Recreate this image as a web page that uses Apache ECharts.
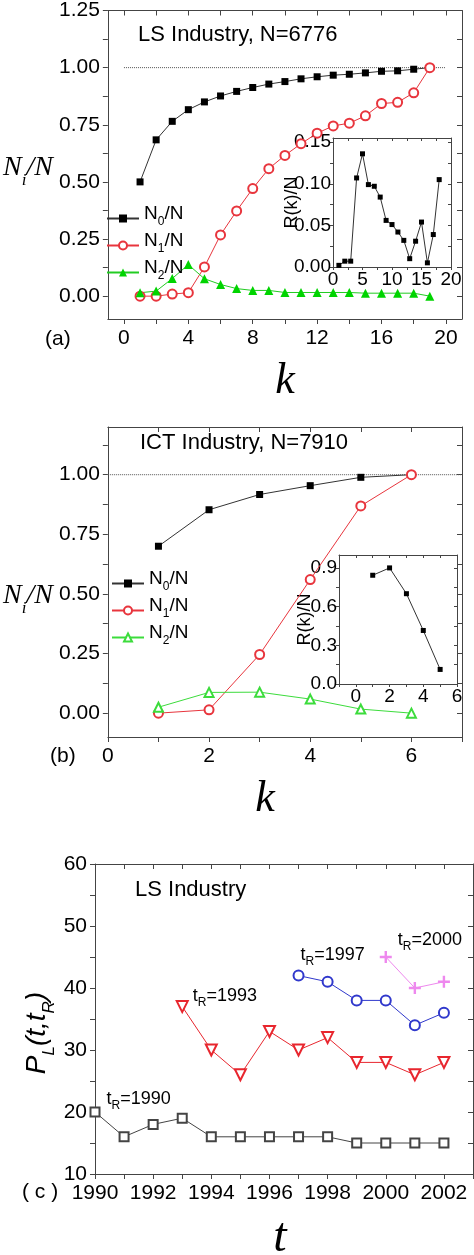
<!DOCTYPE html>
<html>
<head>
<meta charset="utf-8">
<script src="https://cdn.jsdelivr.net/npm/echarts@6/dist/echarts.min.js"></script>
<style>
  html, body { margin: 0; padding: 0; background: #fff; }
  #chart { width: 474px; height: 1255px; }
</style>
</head>
<body>
<div id="chart"></div>
<script>
// ---- panel (a): LS industry ----
const kA = [1, 2, 3, 4, 5, 6, 7, 8, 9, 10, 11, 12, 13, 14, 15, 16, 17, 18, 19];
const aN0 = [0.50, 0.684, 0.765, 0.816, 0.85, 0.876, 0.896, 0.913, 0.928, 0.939, 0.951, 0.96, 0.967, 0.971, 0.977, 0.984, 0.986, 0.993, 1.0];
const aN1 = [0.0, 0.0, 0.009, 0.015, 0.128, 0.268, 0.373, 0.471, 0.558, 0.616, 0.667, 0.713, 0.745, 0.757, 0.789, 0.843, 0.848, 0.89, 1.0];
const aN2 = [0.015, 0.022, 0.077, 0.138, 0.076, 0.051, 0.033, 0.025, 0.025, 0.016, 0.016, 0.016, 0.016, 0.016, 0.013, 0.013, 0.013, 0.013, 0.0];
// inset (a)
const kRA = [1, 2, 3, 4, 5, 6, 7, 8, 9, 10, 11, 12, 13, 14, 15, 16, 17, 18];
const rA = [0.002, 0.007, 0.007, 0.107, 0.136, 0.099, 0.097, 0.084, 0.056, 0.051, 0.042, 0.032, 0.010, 0.031, 0.054, 0.005, 0.039, 0.105];

// ---- panel (b): ICT industry ----
const kB = [1, 2, 3, 4, 5, 6];
const bN0 = [0.70, 0.853, 0.917, 0.954, 0.989, 1.0];
const bN1 = [0.0, 0.014, 0.246, 0.56, 0.869, 1.0];
const bN2 = [0.025, 0.087, 0.088, 0.059, 0.017, 0.0];
// inset (b)
const kRB = [1, 2, 3, 4, 5];
const rB = [0.843, 0.90, 0.70, 0.415, 0.113];

// ---- panel (c): P_L(t, t_R) ----
const years1990 = [1990, 1991, 1992, 1993, 1994, 1995, 1996, 1997, 1998, 1999, 2000, 2001, 2002];
const pl1990 = [20, 16, 18, 19, 16, 16, 16, 16, 16, 15, 15, 15, 15];
const years1993 = [1993, 1994, 1995, 1996, 1997, 1998, 1999, 2000, 2001, 2002];
const pl1993 = [37, 30, 26, 33, 30, 32, 28, 28, 26, 28];
const years1997 = [1997, 1998, 1999, 2000, 2001, 2002];
const pl1997 = [42, 41, 38, 38, 34, 36];
const years2000 = [2000, 2001, 2002];
const pl2000 = [45, 40, 41];

// tick labels
const aXLabels = [0, 4, 8, 12, 16, 20];
const aYLabels = [0, 0.25, 0.5, 0.75, 1.0, 1.25];
const iaXLabels = [0, 5, 10, 15, 20];
const iaYLabels = [0, 0.05, 0.10, 0.15];
const bXLabels = [0, 2, 4, 6];
const bYLabels = [0, 0.25, 0.5, 0.75, 1.0];
const ibXLabels = [0, 2, 4, 6];
const ibYLabels = [0, 0.3, 0.6, 0.9];
const cXLabels = [1990, 1992, 1994, 1996, 1998, 2000, 2002];
const cYLabels = [10, 20, 30, 40, 50, 60];

const FONT = "'Liberation Sans Narrow', 'Liberation Sans', Arial, sans-serif";
const SANS = "'Liberation Sans', Arial, sans-serif";
const SERIF = "'Liberation Serif', 'DejaVu Serif', serif";
const AX = '#444';

// ticks every `step` between a and b
function steps(a, b, step) {
    const out = [];
    for (let v = a; v <= b + 1e-9; v += step) out.push(Math.round(v * 1000) / 1000);
    return out;
}

function zip(xs, ys) {
    return xs.map((x, i) => [x, ys[i]]);
}

// main axis (with labels) and a twin axis on the opposite side that closes the frame
function axisPair(gi, dim, c) {
    const base = {
        gridIndex: gi, type: 'value', min: c.min, max: c.max,
        splitLine: { show: false },
        axisLine: { show: true, onZero: false, lineStyle: { color: AX, width: 1 } }
    };
    const main = Object.assign({}, base, {
        position: dim === 'x' ? 'bottom' : 'left',
        axisTick: { show: true, inside: false, length: c.tickLen, customValues: c.ticks, lineStyle: { color: AX } },
        axisLabel: {
            show: true, customValues: c.labels, formatter: c.fmt, color: '#000',
            fontSize: c.fs, fontFamily: FONT, margin: c.margin
        },
        name: c.name || '', nameLocation: 'middle', nameGap: c.nameGap || 0,
        nameMoveOverlap: false,
        nameTextStyle: c.nameStyle || {}
    });
    if (c.nameRotate !== undefined) main.nameRotate = c.nameRotate;
    const twin = Object.assign({}, base, {
        position: dim === 'x' ? 'top' : 'right',
        axisTick: { show: true, inside: true, length: c.tickLen, customValues: c.twinTicks || c.ticks, lineStyle: { color: AX } },
        axisLabel: { show: false }
    });
    return [main, twin];
}

const fix = n => v => v.toFixed(n);
const plain = v => String(v);

const subRich = (size, fam, style) => ({
    n: { fontSize: size, fontFamily: fam, fontStyle: style, fill: '#000', color: '#000', verticalAlign: 'bottom', lineHeight: size, padding: [0, 0, Math.round(size * 0.25), 0] },
    s: { fontSize: Math.round(size * 0.6), fontFamily: fam, fontStyle: style, fill: '#000', color: '#000', verticalAlign: 'bottom', lineHeight: Math.round(size * 0.6) }
});

const grids = [
    { left: 107, top: 9, width: 355, height: 310 },      // (a)
    { left: 333, top: 138, width: 118, height: 129, show: true, backgroundColor: '#fff', borderWidth: 0 }, // inset (a)
    { left: 107, top: 427, width: 355, height: 310 },    // (b)
    { left: 339, top: 555, width: 118, height: 129, show: true, backgroundColor: '#fff', borderWidth: 0 }, // inset (b)
    { left: 95, top: 864, width: 378, height: 310 }      // (c)
];

const xAxes = [].concat(
    axisPair(0, 'x', { min: -1, max: 21, ticks: steps(0, 20, 2), labels: aXLabels, fmt: plain, fs: 21, margin: 9, tickLen: 5,
        name: 'k', nameGap: 40, nameStyle: { fontFamily: SERIF, fontStyle: 'italic', fontSize: 44, color: '#000' } }),
    axisPair(1, 'x', { min: 0, max: 20, ticks: steps(0, 20, 2.5), labels: iaXLabels, fmt: plain, fs: 19, margin: 3, tickLen: 3 }),
    axisPair(2, 'x', { min: 0, max: 7, ticks: steps(0, 7, 1), labels: bXLabels, fmt: plain, fs: 21, margin: 9, tickLen: 5,
        name: 'k', nameGap: 40, nameStyle: { fontFamily: SERIF, fontStyle: 'italic', fontSize: 44, color: '#000', padding: [0, 40, 0, 0] } }),
    axisPair(3, 'x', { min: -1, max: 6, ticks: steps(-1, 6, 1), labels: ibXLabels, fmt: plain, fs: 19, margin: 3, tickLen: 3 }),
    axisPair(4, 'x', { min: 1990, max: 2003, ticks: steps(1990, 2003, 1), labels: cXLabels, fmt: plain, fs: 21, margin: 9, tickLen: 5 })
);

const yAxes = [].concat(
    axisPair(0, 'y', { min: -0.1, max: 1.25, ticks: steps(0, 1.25, 0.125), labels: aYLabels, fmt: fix(2), fs: 21, margin: 8, tickLen: 5,
        name: '{n|N}{s|i}{n|/N}', nameGap: 55, nameRotate: 0,
        nameStyle: { rich: subRich(28, SERIF, 'italic'), padding: [20, 0, 0, 0] } }),
    axisPair(1, 'y', { min: 0, max: 0.155, ticks: steps(0, 0.15, 0.025), labels: iaYLabels, fmt: fix(2), fs: 19, margin: 2, tickLen: 3,
        name: 'R(k)/N', nameGap: 32, nameStyle: { fontFamily: FONT, fontSize: 18, color: '#000' } }),
    axisPair(2, 'y', { min: -0.1, max: 1.2, ticks: steps(0, 1.125, 0.125), labels: bYLabels, fmt: fix(2), fs: 21, margin: 8, tickLen: 5,
        name: '{n|N}{s|i}{n|/N}', nameGap: 55, nameRotate: 0,
        nameStyle: { rich: subRich(28, SERIF, 'italic'), padding: [42, 0, 0, 0] } }),
    axisPair(3, 'y', { min: 0, max: 1.0, ticks: steps(0, 0.9, 0.15), labels: ibYLabels, fmt: fix(1), fs: 19, margin: 2, tickLen: 3,
        name: 'R(k)/N', nameGap: 25, nameStyle: { fontFamily: FONT, fontSize: 18, color: '#000' } }),
    axisPair(4, 'y', { min: 10, max: 60, ticks: steps(10, 60, 5), labels: cYLabels, fmt: plain, fs: 21, margin: 8, tickLen: 5 })
);

// last point of N0 sits under the N1 circle
function n0Data(xs, ys) {
    return zip(xs, ys).map((p, i) => i === xs.length - 1 ? { value: p, symbol: 'none' } : p);
}

function lineSeries(name, gi, data, sym, size, color, lineColor, extra) {
    return Object.assign({
        type: 'line', name: name, xAxisIndex: 2 * gi, yAxisIndex: 2 * gi, data: data,
        symbol: sym, symbolSize: size, showSymbol: true,
        itemStyle: { color: color }, lineStyle: { color: lineColor || color, width: 1 },
        z: 3
    }, extra || {});
}

const refLine = (gi, x0, x1) => ({
    type: 'line', name: 'ref' + gi, xAxisIndex: 2 * gi, yAxisIndex: 2 * gi,
    data: [[x0, 1], [x1, 1]], symbol: 'none', silent: true, z: 1,
    lineStyle: { type: 'dotted', color: '#555', width: 1 }
});

const RED = '#e8353d';
const PLUS = 'path://M4,0h2v4h4v2h-4v4h-2v-4h-4v-2h4z';

function trLabel(year, off) {
    return {
        show: true, position: 'right', distance: 4, offset: off,
        formatter: '{t|t}{s|R}{t|=' + year + '}',
        rich: {
            t: { fontSize: 18, fontFamily: FONT, color: '#000', verticalAlign: 'bottom', lineHeight: 18, padding: [0, 0, 4, 0] },
            s: { fontSize: 12, fontFamily: FONT, color: '#000', verticalAlign: 'bottom', lineHeight: 12 }
        }
    };
}

function withFirstLabel(xs, ys, label) {
    return zip(xs, ys).map((p, i) => i === 0 ? { value: p, label: label } : p);
}

const series = [
    refLine(0, 0, 20),
    lineSeries('a0', 0, n0Data(kA, aN0), 'rect', 7, '#000', '#333'),
    lineSeries('a1', 0, zip(kA, aN1), 'emptyCircle', 9, RED),
    lineSeries('a2', 0, zip(kA, aN2), 'triangle', 9, '#00d400', '#22cc22'),
    lineSeries('ra', 1, zip(kRA, rA), 'rect', 5, '#000', '#333'),

    refLine(2, 0, 7),
    lineSeries('b0', 2, n0Data(kB, bN0), 'rect', 7, '#000', '#333'),
    lineSeries('b1', 2, zip(kB, bN1), 'emptyCircle', 9, RED),
    lineSeries('b2', 2, zip(kB, bN2), 'emptyTriangle', 9, '#3cdc3c'),
    lineSeries('rb', 3, zip(kRB, rB), 'rect', 5, '#000', '#333'),

    lineSeries('c1990', 4, withFirstLabel(years1990, pl1990, trLabel(1990, [2, -9])), 'emptyRect', 9, '#444'),
    lineSeries('c1993', 4, withFirstLabel(years1993, pl1993, trLabel(1993, [0, -7])), 'emptyTriangle', 11, '#e8262e', null, { symbolRotate: 180 }),
    lineSeries('c1997', 4, withFirstLabel(years1997, pl1997, trLabel(1997, [-8, -17])), 'emptyCircle', 10, '#3038cc'),
    lineSeries('c2000', 4, withFirstLabel(years2000, pl2000, trLabel(2000, [2, -13])), PLUS, 12, '#ee88ee')
];

const legendRich = {
    n: { fontSize: 19, fontFamily: FONT, color: '#000', verticalAlign: 'bottom', lineHeight: 19, padding: [0, 0, 5, 0] },
    s: { fontSize: 12, fontFamily: FONT, color: '#000', verticalAlign: 'bottom', lineHeight: 12 }
};
const legendFmt = name => '{n|N}{s|' + name[1] + '}{n|/N}';

function legend(left, top, names) {
    return {
        orient: 'vertical', left: left, top: top, data: names, selectedMode: false,
        itemWidth: 32, itemHeight: 10, itemGap: 3, padding: 0,
        formatter: legendFmt, textStyle: { rich: legendRich }
    };
}

const titleStyle = { fontSize: 22, fontWeight: 'normal', fontFamily: FONT, color: '#000' };
const tagStyle = { fontSize: 21, fontWeight: 'normal', fontFamily: FONT, color: '#000' };

const option = {
    animation: false,
    backgroundColor: '#fff',
    title: [
        { text: 'LS Industry, N=6776', left: 138, top: 24, padding: 0, textStyle: titleStyle },
        { text: 'ICT Industry, N=7910', left: 140, top: 432, padding: 0, textStyle: titleStyle },
        { text: 'LS Industry', left: 135, top: 879, padding: 0, textStyle: titleStyle },
        { text: '(a)', left: 45, top: 329, padding: 0, textStyle: tagStyle },
        { text: '(b)', left: 50, top: 746, padding: 0, textStyle: tagStyle },
        { text: '( c )', left: 22, top: 1182, padding: 0, textStyle: tagStyle }
    ],
    graphic: [
        {
            type: 'text', x: 280, y: 1238, silent: true,
            style: { text: 't', font: 'italic 48px ' + SERIF, fill: '#000', align: 'center', verticalAlign: 'middle' }
        },
        {
            type: 'text', x: 44, y: 1033, rotation: Math.PI / 2, silent: true,
            style: {
                text: '{n|P}{s|L}{n|(t,t}{s|R}{n|)}', align: 'center', verticalAlign: 'middle',
                rich: subRich(28, SANS, 'italic')
            }
        }
    ],
    legend: [
        legend(106, 204, ['a0', 'a1', 'a2']),
        legend(111, 569, ['b0', 'b1', 'b2'])
    ],
    grid: grids,
    xAxis: xAxes,
    yAxis: yAxes,
    series: series
};

const chart = echarts.init(document.getElementById('chart'), null, { renderer: 'canvas' });
chart.setOption(option);
window.addEventListener('resize', function () {
    chart.resize();
});
</script>
</body>
</html>
